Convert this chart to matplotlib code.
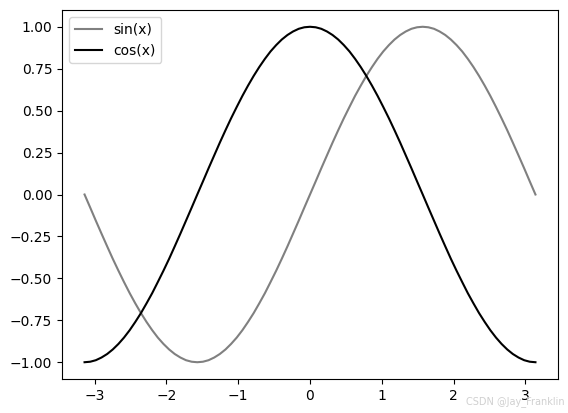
import matplotlib
matplotlib.use("Agg")
import matplotlib.pyplot as plt

# x sampled every pi/40 from -pi to pi
x = [-3.142, -3.063, -2.985, -2.906, -2.827, -2.749, -2.670, -2.592, -2.513, -2.435,
     -2.356, -2.278, -2.199, -2.121, -2.042, -1.963, -1.885, -1.806, -1.728, -1.649,
     -1.571, -1.492, -1.414, -1.335, -1.257, -1.178, -1.100, -1.021, -0.942, -0.864,
     -0.785, -0.707, -0.628, -0.550, -0.471, -0.393, -0.314, -0.236, -0.157, -0.079,
     0.000, 0.079, 0.157, 0.236, 0.314, 0.393, 0.471, 0.550, 0.628, 0.707,
     0.785, 0.864, 0.942, 1.021, 1.100, 1.178, 1.257, 1.335, 1.414, 1.492,
     1.571, 1.649, 1.728, 1.806, 1.885, 1.963, 2.042, 2.121, 2.199, 2.278,
     2.356, 2.435, 2.513, 2.592, 2.670, 2.749, 2.827, 2.906, 2.985, 3.063, 3.142]

sin_vals = [0.000, -0.078, -0.156, -0.233, -0.309, -0.383, -0.454, -0.522, -0.588, -0.649,
            -0.707, -0.760, -0.809, -0.853, -0.891, -0.924, -0.951, -0.972, -0.988, -0.997,
            -1.000, -0.997, -0.988, -0.972, -0.951, -0.924, -0.891, -0.853, -0.809, -0.760,
            -0.707, -0.649, -0.588, -0.522, -0.454, -0.383, -0.309, -0.233, -0.156, -0.078,
            0.000, 0.078, 0.156, 0.233, 0.309, 0.383, 0.454, 0.522, 0.588, 0.649,
            0.707, 0.760, 0.809, 0.853, 0.891, 0.924, 0.951, 0.972, 0.988, 0.997,
            1.000, 0.997, 0.988, 0.972, 0.951, 0.924, 0.891, 0.853, 0.809, 0.760,
            0.707, 0.649, 0.588, 0.522, 0.454, 0.383, 0.309, 0.233, 0.156, 0.078, 0.000]

cos_vals = [-1.000, -0.997, -0.988, -0.972, -0.951, -0.924, -0.891, -0.853, -0.809, -0.760,
            -0.707, -0.649, -0.588, -0.522, -0.454, -0.383, -0.309, -0.233, -0.156, -0.078,
            0.000, 0.078, 0.156, 0.233, 0.309, 0.383, 0.454, 0.522, 0.588, 0.649,
            0.707, 0.760, 0.809, 0.853, 0.891, 0.924, 0.951, 0.972, 0.988, 0.997,
            1.000, 0.997, 0.988, 0.972, 0.951, 0.924, 0.891, 0.853, 0.809, 0.760,
            0.707, 0.649, 0.588, 0.522, 0.454, 0.383, 0.309, 0.233, 0.156, 0.078,
            0.000, -0.078, -0.156, -0.233, -0.309, -0.383, -0.454, -0.522, -0.588, -0.649,
            -0.707, -0.760, -0.809, -0.853, -0.891, -0.924, -0.951, -0.972, -0.988, -0.997, -1.000]

fig = plt.figure(figsize=(5.68, 4.13), dpi=100)
fig.subplots_adjust(left=62 / 568, right=558 / 568, top=1 - 10 / 413, bottom=1 - 379 / 413)
ax = fig.add_subplot(111)

ax.plot(x, sin_vals, color="gray", label="sin(x)")
ax.plot(x, cos_vals, color="black", label="cos(x)")
ax.legend(loc="upper left")

# watermark
fig.text(0.994, 0.027, "CSDN @Jay_Franklin", color="#d0d0d0", fontsize=7,
         ha="right", va="center")

fig.savefig("out.png", dpi=100)
